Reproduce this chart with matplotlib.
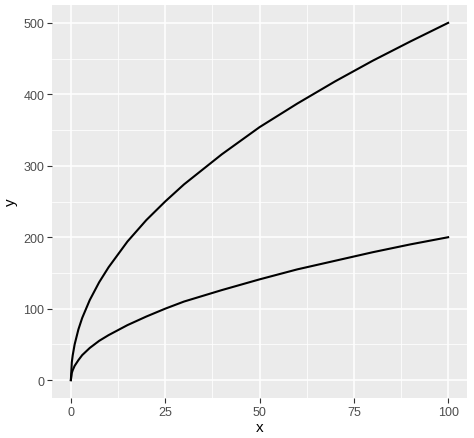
import matplotlib
matplotlib.use("Agg")
import matplotlib.pyplot as plt
from matplotlib.ticker import MultipleLocator

plt.rcParams["font.family"] = ["Liberation Sans", "DejaVu Sans"]

# values
x_vals = [0, 0.25, 0.5, 1, 2, 3, 5, 7.5, 10, 15, 20, 25, 30, 40, 50, 60, 70, 80, 90, 100]
y_upper = [0, 25, 35, 50, 71, 87, 112, 137, 158, 194, 224, 250, 274, 316, 354, 387, 418, 447, 474, 500]
y_lower = [0, 10, 14, 20, 28, 35, 45, 55, 63, 77, 89, 100, 110, 126, 141, 155, 167, 179, 190, 200]

x_ticks = [0, 25, 50, 75, 100]
y_ticks = [0, 100, 200, 300, 400, 500]

fig = plt.figure(figsize=(4.74, 4.39), dpi=100)
ax = fig.add_axes([52 / 474, 1 - 399 / 439, 415 / 474, 393 / 439])
ax.set_facecolor("#EBEBEB")

ax.plot(x_vals, y_upper, color="black", lw=1.5, zorder=3)
ax.plot(x_vals, y_lower, color="black", lw=1.5, zorder=3)

ax.set_xlim(-5, 105)
ax.set_ylim(-25, 525)
ax.set_xticks(x_ticks)
ax.set_yticks(y_ticks)
ax.xaxis.set_minor_locator(MultipleLocator(12.5))
ax.yaxis.set_minor_locator(MultipleLocator(50))

ax.grid(which="major", color="white", lw=1.1)
ax.grid(which="minor", color="white", lw=0.55)
ax.set_axisbelow(True)
for s in ax.spines.values():
    s.set_visible(False)

ax.tick_params(which="major", length=3.5, width=0.8, color="#333333",
               labelcolor="#4D4D4D", labelsize=9, pad=2)
ax.tick_params(which="minor", length=0)

ax.set_xlabel("x", fontsize=11, labelpad=2)
ax.set_ylabel("y", fontsize=11, labelpad=4)

fig.savefig("out.png", dpi=100)
